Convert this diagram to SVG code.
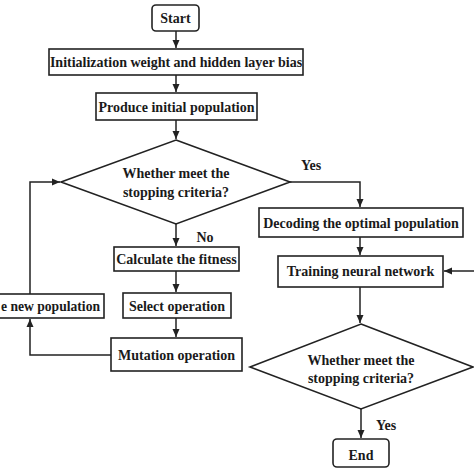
<svg xmlns="http://www.w3.org/2000/svg" width="474" height="474" viewBox="0 0 474 474">
<defs>
<marker id="ah" viewBox="0 0 8 8" refX="8" refY="4" markerWidth="8" markerHeight="8" markerUnits="userSpaceOnUse" orient="auto">
<path d="M0,0.5 L8,4 L0,7.5 Z" fill="#222"/>
</marker>
</defs>
<style>
.box{fill:#fff;stroke:#222;stroke-width:1.6}
.t{font-family:"Liberation Serif","Times New Roman",serif;font-weight:bold;font-size:14px;fill:#1a1a1a;text-anchor:middle;dominant-baseline:central}
.c{fill:none;stroke:#222;stroke-width:1.5}
</style>
<rect width="474" height="474" fill="#fff"/>
<g id="connectors">
<path class="c" d="M176,31 V48" marker-end="url(#ah)"/>
<path class="c" d="M176,75 V92" marker-end="url(#ah)"/>
<path class="c" d="M176,120 V139" marker-end="url(#ah)"/>
<path class="c" d="M176,224 V246" marker-end="url(#ah)"/>
<path class="c" d="M176,271 V292" marker-end="url(#ah)"/>
<path class="c" d="M176,318 V337" marker-end="url(#ah)"/>
<path class="c" d="M111,355 H30 V319" marker-end="url(#ah)"/>
<path class="c" d="M30,294 V182 H60" marker-end="url(#ah)"/>
<path class="c" d="M290,182 H360 V207" marker-end="url(#ah)"/>
<path class="c" d="M360,237 V255" marker-end="url(#ah)"/>
<path class="c" d="M474,271 H444" marker-end="url(#ah)"/>
<path class="c" d="M360,287 V323" marker-end="url(#ah)"/>
<path class="c" d="M361,409 V438" marker-end="url(#ah)"/>
<text class="t" x="311" y="165">Yes</text>
<text class="t" x="205" y="237">No</text>
<text class="t" x="386" y="425">Yes</text>
</g>
<g id="start"><rect class="box" x="152" y="5" width="47" height="26" rx="4"/><text class="t" x="175.5" y="18">Start</text></g>
<g id="init"><rect class="box" x="49" y="49" width="254" height="26"/><text class="t" x="176" y="62">Initialization weight and hidden layer bias</text></g>
<g id="produce"><rect class="box" x="96" y="93" width="161" height="27"/><text class="t" x="176.5" y="107">Produce initial population</text></g>
<g id="decision1"><path class="box" d="M176,140 L290,182 L176,224 L61,182 Z"/><text class="t" x="176" y="173">Whether meet the</text><text class="t" x="176" y="192">stopping criteria?</text></g>
<g id="fitness"><rect class="box" x="114" y="247" width="125" height="24"/><text class="t" x="176.5" y="259">Calculate the fitness</text></g>
<g id="select"><rect class="box" x="123" y="293" width="108" height="25"/><text class="t" x="177" y="306">Select operation</text></g>
<g id="newpop"><rect class="box" x="-10" y="294" width="114" height="24"/><text class="t" x="1" y="306" style="text-anchor:start" textLength="99" lengthAdjust="spacingAndGlyphs">e new population</text></g>
<g id="mutation"><rect class="box" x="111" y="338" width="131" height="33"/><text class="t" x="176.5" y="355">Mutation operation</text></g>
<g id="decode"><rect class="box" x="259" y="208" width="204" height="29"/><text class="t" x="361" y="223">Decoding the optimal population</text></g>
<g id="training"><rect class="box" x="278" y="256" width="165" height="31"/><text class="t" x="360.5" y="271">Training neural network</text></g>
<g id="decision2"><path class="box" d="M361,324 L473,367 L361,409 L250,367 Z"/><text class="t" x="361" y="360">Whether meet the</text><text class="t" x="361" y="378">stopping criteria?</text></g>
<g id="end"><rect class="box" x="333" y="439" width="56" height="28" rx="4"/><text class="t" x="361" y="455">End</text></g>
</svg>
